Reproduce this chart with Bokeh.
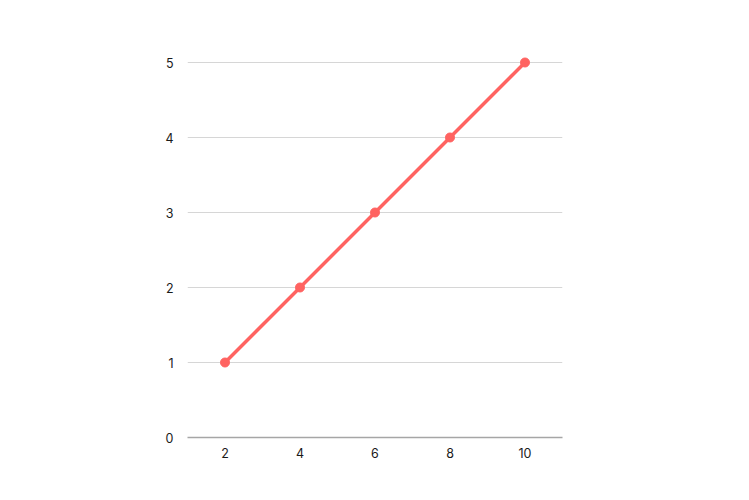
from bokeh.plotting import figure
from bokeh.models import Range1d, FixedTicker
from bokeh.embed import file_html
from bokeh.resources import INLINE

xs = [2, 4, 6, 8, 10]
ys = [1, 2, 3, 4, 5]
x_ticks = [2, 4, 6, 8, 10]
y_ticks = [0, 1, 2, 3, 4, 5]

FONT = "Inter"
RED = "#ff6361"

p = figure(
    width=733,
    height=484,
    output_backend="svg",
    toolbar_location=None,
    x_range=Range1d(1, 11),
    y_range=Range1d(0, 5.4),
    min_border_left=187,
    min_border_right=171,
    min_border_top=32,
    min_border_bottom=47,
)
p.outline_line_color = None
p.background_fill_color = "white"

p.line(xs, ys, line_color=RED, line_width=3.5)
p.scatter(xs, ys, size=9, fill_color=RED, line_color=RED)

p.xgrid.visible = False
p.ygrid.ticker = FixedTicker(ticks=y_ticks)
p.ygrid.grid_line_color = "#d6d6d6"
p.ygrid.grid_line_width = 1

p.xaxis.ticker = FixedTicker(ticks=x_ticks)
p.xaxis.axis_line_color = "#a6a6a6"
p.xaxis.axis_line_width = 1.5
p.xaxis.major_tick_line_color = None
p.xaxis.minor_tick_line_color = None
p.xaxis.major_label_standoff = 4

p.yaxis.ticker = FixedTicker(ticks=y_ticks)
p.yaxis.axis_line_color = None
p.yaxis.major_tick_line_color = None
p.yaxis.minor_tick_line_color = None
p.yaxis.major_label_standoff = 8

for ax in (p.xaxis, p.yaxis):
    ax.major_label_text_font = FONT
    ax.major_label_text_font_size = "12.5px"
    ax.major_label_text_font_style = "normal"
    ax.major_label_text_color = "#1a1a1a"

open("out.html", "w").write(file_html(p, INLINE))
